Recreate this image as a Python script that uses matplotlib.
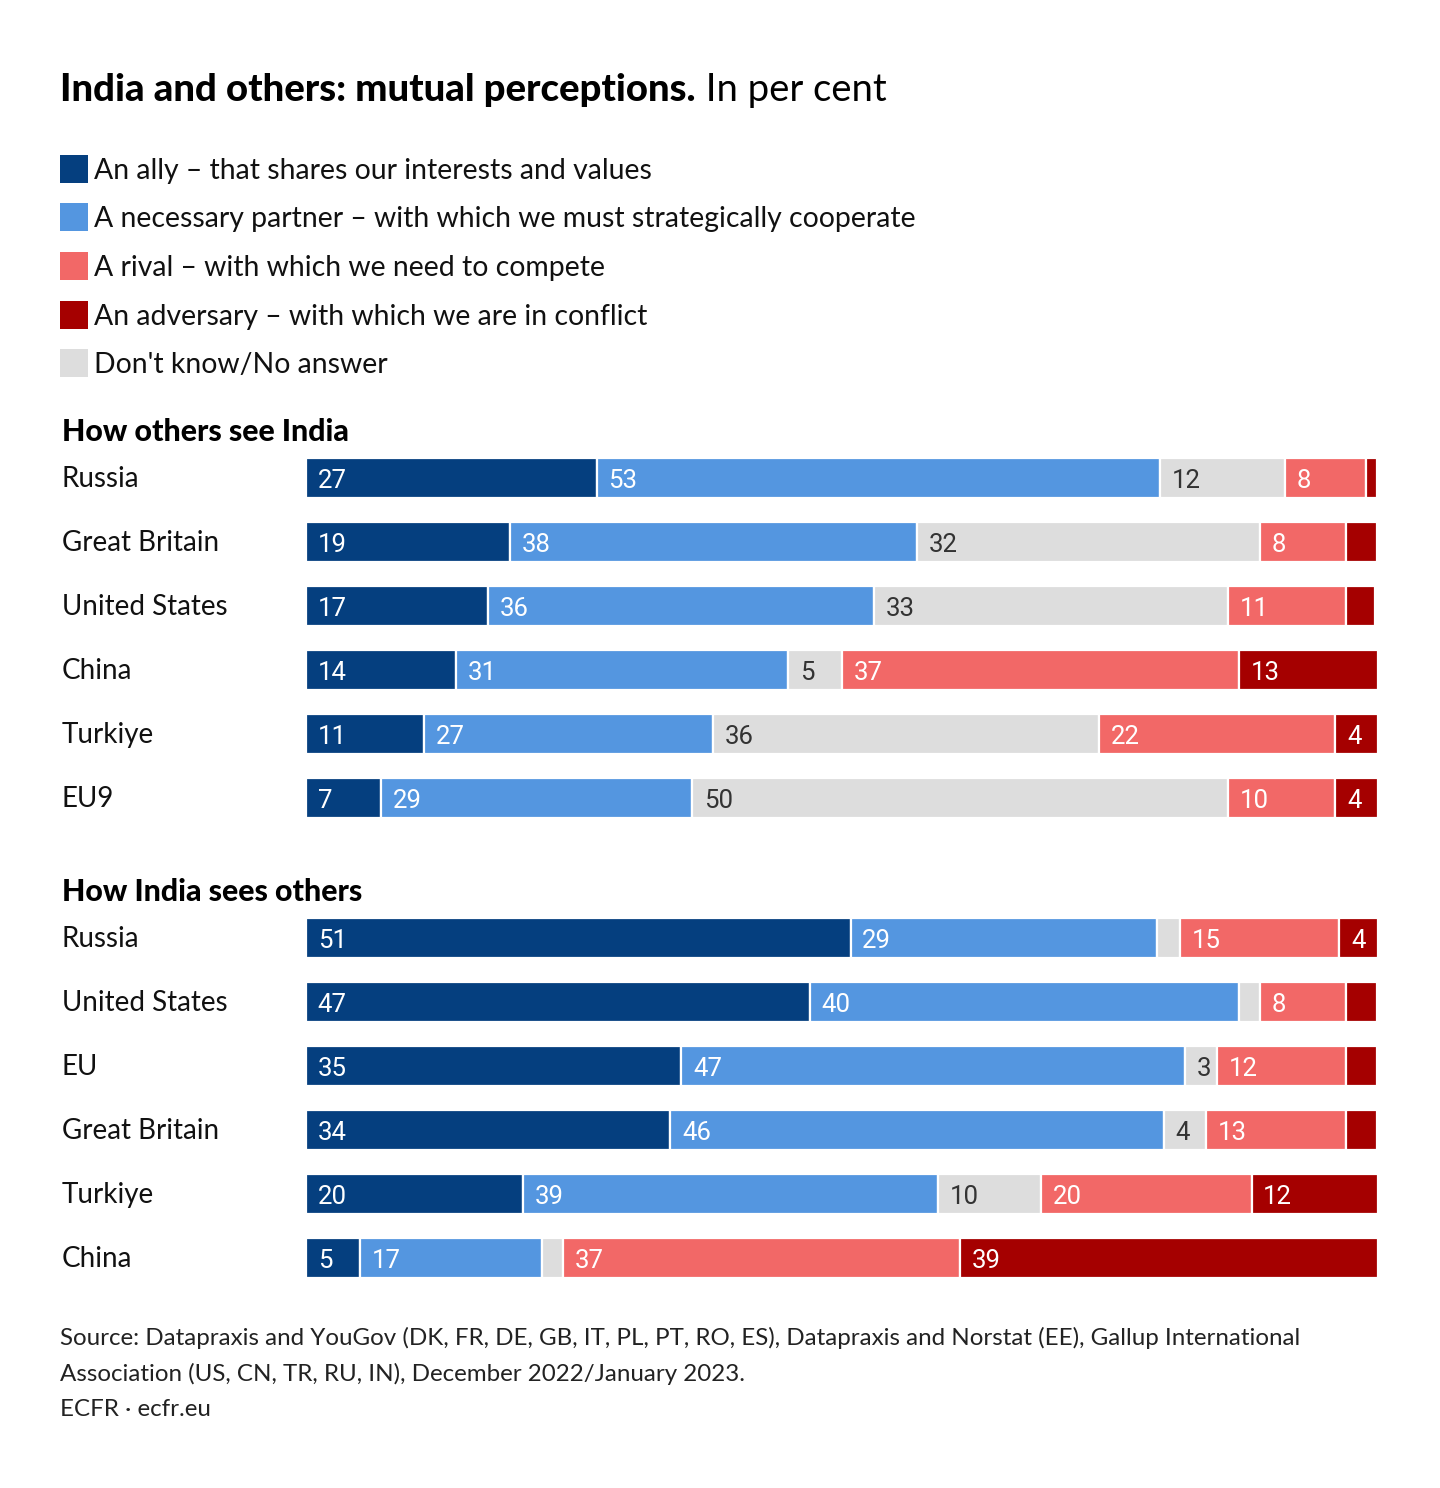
import matplotlib
matplotlib.use("Agg")
import matplotlib.pyplot as plt
from matplotlib.patches import Rectangle

# ---------------- data ----------------
categories = ["An ally – that shares our interests and values",
              "A necessary partner – with which we must strategically cooperate",
              "A rival – with which we need to compete",
              "An adversary – with which we are in conflict",
              "Don't know/No answer"]

# segment order in bars: ally, partner, don't know, rival, adversary
others_countries = ["Russia", "Great Britain", "United States", "China", "Turkiye", "EU9"]
others_ally      = [27.1, 19, 17, 14, 11, 7]
others_partner   = [52.6, 38, 36, 31, 27, 29]
others_dk        = [11.6, 32, 33, 5, 36, 50]
others_rival     = [7.6, 8, 11, 37, 22, 10]
others_adversary = [1.0, 2.9, 2.7, 13, 4, 4]

india_countries = ["Russia", "United States", "EU", "Great Britain", "Turkiye", "China"]
india_ally      = [50.8, 47, 35, 34, 20.2, 5]
india_partner   = [28.6, 40, 47, 46, 38.8, 17]
india_dk        = [2.1, 2, 3, 4, 9.6, 2]
india_rival     = [14.9, 8, 12, 13, 19.6, 37]
india_adversary = [3.6, 2.9, 2.9, 2.9, 11.8, 39]

title_bold = "India and others: mutual perceptions."
title_rest = " In per cent"
group_titles = ["How others see India", "How India sees others"]
source_lines = ["Source: Datapraxis and YouGov (DK, FR, DE, GB, IT, PL, PT, RO, ES), Datapraxis and Norstat (EE), Gallup International",
                "Association (US, CN, TR, RU, IN), December 2022/January 2023.",
                "ECFR · ecfr.eu"]

# ---------------- style ----------------
C_ALLY = "#053f7f"
C_PART = "#5496e0"
C_RIV = "#f26867"
C_ADV = "#a50000"
C_DK = "#dddddd"
legend_colors = [C_ALLY, C_PART, C_RIV, C_ADV, C_DK]
seg_colors = [C_ALLY, C_PART, C_DK, C_RIV, C_ADV]
seg_text = ["white", "white", "#333333", "white", "white"]

W, H = 1440, 1488
fig = plt.figure(figsize=(W / 100, H / 100), dpi=100)
FONT = ["Lato", "DejaVu Sans"]
NUMFONT = ["Roboto", "DejaVu Sans"]


def fy(py):
    return 1 - py / H


def fx(px):
    return px / W


# title
renderer = fig.canvas.get_renderer()
t1 = fig.text(fx(60), fy(90), title_bold, fontsize=27.5, fontweight="black",
              family=FONT, va="center", ha="left", color="#000000")
bb = t1.get_window_extent(renderer=renderer)
fig.text(bb.x1 / W, fy(90), title_rest, fontsize=27.5, family=FONT,
         va="center", ha="left", color="#000000")

# legend
leg_y = [169, 217, 266, 315, 363]
for cat, col, y in zip(categories, legend_colors, leg_y):
    fig.patches.append(Rectangle((fx(60), fy(y + 14)), 28 / W, 28 / H,
                                 transform=fig.transFigure, color=col, lw=0))
    fig.text(fx(94), fy(y + 2), cat, fontsize=20.4, family=FONT, va="center",
             ha="left", color="#111111")

x0, x1 = 306, 1378


def draw_group(top_px, title_y, title, countries, series):
    n = len(countries)
    row = 64
    ax_h = n * row
    ax = fig.add_axes([fx(x0), fy(top_px + ax_h), (x1 - x0) / W, ax_h / H])
    ax.set_xlim(0, 100)
    ax.set_ylim(n - 0.5, -0.5)
    ax.axis("off")
    fig.text(fx(62), fy(title_y + 2), title, fontsize=21.8, fontweight="black",
             family=FONT, va="center", ha="left", color="#000000")
    for i, c in enumerate(countries):
        fig.text(fx(62), fy(top_px + row * i + row / 2 + 1), c, fontsize=20,
                 family=FONT, va="center", ha="left", color="#111111")
    left = [0.0] * n
    for k, vals in enumerate(series):
        ax.barh(range(n), vals, left=left, height=0.625, color=seg_colors[k],
                edgecolor="white", linewidth=1.6)
        for i, v in enumerate(vals):
            if v >= 3:
                ax.text(left[i] + 1.1, i + 0.04, f"{round(v)}", color=seg_text[k],
                        fontsize=18.5, family=NUMFONT, ha="left", va="center")
            left[i] += v
    return ax


draw_group(446, 430, group_titles[0], others_countries,
           [others_ally, others_partner, others_dk, others_rival, others_adversary])
draw_group(906, 890, group_titles[1], india_countries,
           [india_ally, india_partner, india_dk, india_rival, india_adversary])

for j, line in enumerate(source_lines):
    fig.text(fx(60), fy(1338 + 36 * j), line, fontsize=17.4, family=FONT,
             va="center", ha="left", color="#222222")

fig.savefig("out.png", dpi=100, facecolor="white")
